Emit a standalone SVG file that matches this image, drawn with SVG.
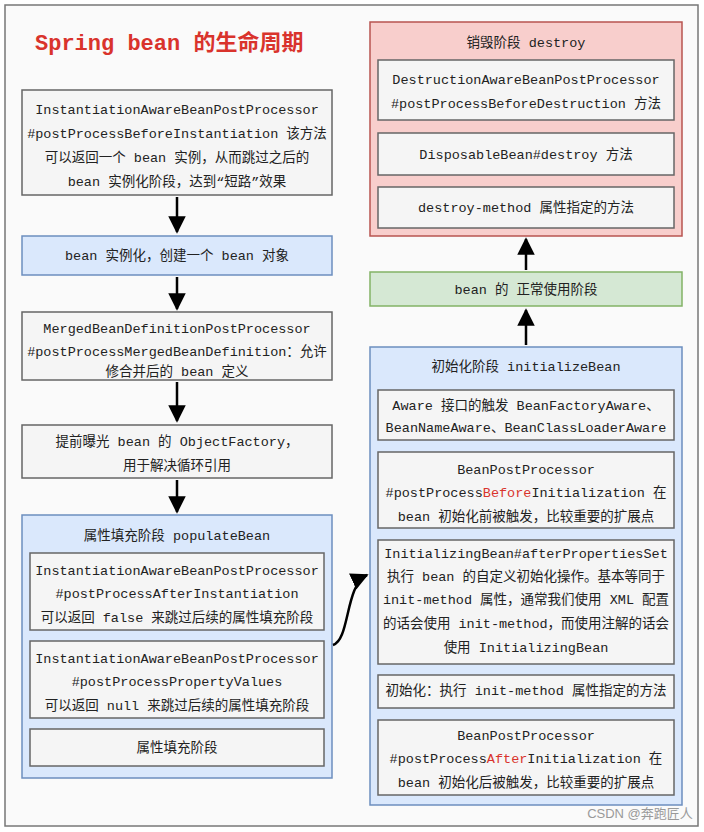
<svg xmlns="http://www.w3.org/2000/svg" width="704" height="832" viewBox="0 0 704 832">
<defs>
<marker id="ah" viewBox="0 0 10 10" refX="9" refY="5" markerWidth="7" markerHeight="7" orient="auto-start-reverse"><path d="M0,0 L10,5 L0,10 z" fill="#000"/></marker>
</defs>
<style>
text{font-family:"Liberation Mono","Noto Sans CJK SC",monospace;font-size:13.5px;fill:#222;text-anchor:middle}
.g{fill:#f5f5f5;stroke:#666;stroke-width:1.5}
.b{fill:#dae8fc;stroke:#6c8ebf;stroke-width:1.5}
.gr{fill:#d5e8d4;stroke:#82b366;stroke-width:1.5}
.r{fill:#f8cecc;stroke:#b85450;stroke-width:1.5}
.c{stroke:#000;stroke-width:2.5;fill:none;marker-end:url(#ah)}
.red{fill:#d9332c}
</style>
<rect x="5" y="5" width="693" height="821" fill="#fafafa" stroke="#777" stroke-width="1.5"/>
<text x="35" y="50" style="text-anchor:start;font-size:22px;font-weight:bold" class="red">Spring bean 的生命周期</text>

<g id="n1"><rect class="g" x="22" y="90" width="310" height="105"/>
<text x="177" y="114">InstantiationAwareBeanPostProcessor</text>
<text x="177" y="138">#postProcessBeforeInstantiation 该方法</text>
<text x="177" y="162">可以返回一个 bean 实例，从而跳过之后的</text>
<text x="177" y="186">bean 实例化阶段，达到“短路”效果</text></g>
<g id="n2"><rect class="b" x="22" y="236" width="310" height="39"/><text x="177" y="260">bean 实例化，创建一个 bean 对象</text></g>
<g id="n3"><rect class="g" x="22" y="312" width="310" height="68"/>
<text x="177" y="333">MergedBeanDefinitionPostProcessor</text>
<text x="177" y="356">#postProcessMergedBeanDefinition：允许</text>
<text x="177" y="380" dy="-4">修合并后的 bean 定义</text></g>
<g id="n4"><rect class="g" x="22" y="425" width="310" height="53"/>
<text x="177" y="446">提前曝光 bean 的 ObjectFactory，</text>
<text x="177" y="470">用于解决循环引用</text></g>
<g id="n5"><rect class="b" x="22" y="515" width="310" height="263"/>
<text x="177" y="540">属性填充阶段 populateBean</text>
<rect class="g" x="30" y="553" width="294" height="77"/>
<text x="177" y="575">InstantiationAwareBeanPostProcessor</text>
<text x="177" y="598">#postProcessAfterInstantiation</text>
<text x="177" y="622">可以返回 false 来跳过后续的属性填充阶段</text>
<rect class="g" x="30" y="641" width="294" height="77"/>
<text x="177" y="663">InstantiationAwareBeanPostProcessor</text>
<text x="177" y="686">#postProcessPropertyValues</text>
<text x="177" y="710">可以返回 null 来跳过后续的属性填充阶段</text>
<rect class="g" x="30" y="729" width="294" height="37"/>
<text x="177" y="752">属性填充阶段</text></g>

<g id="n6"><rect class="b" x="370" y="347" width="312" height="458"/>
<text x="526" y="371">初始化阶段 initializeBean</text>
<rect class="g" x="378" y="390" width="296" height="50"/>
<text x="526" y="410">Aware 接口的触发 BeanFactoryAware、</text>
<text x="526" y="432">BeanNameAware、BeanClassLoaderAware</text>
<rect class="g" x="378" y="452" width="296" height="76"/>
<text x="526" y="474">BeanPostProcessor</text>
<text x="526" y="497">#postProcess<tspan class="red">Before</tspan>Initialization 在</text>
<text x="526" y="521">bean 初始化前被触发，比较重要的扩展点</text>
<rect class="g" x="378" y="540" width="296" height="124"/>
<text x="526" y="558">InitializingBean#afterPropertiesSet</text>
<text x="526" y="581">执行 bean 的自定义初始化操作。基本等同于</text>
<text x="526" y="604">init-method 属性，通常我们使用 XML 配置</text>
<text x="526" y="628">的话会使用 init-method，而使用注解的话会</text>
<text x="526" y="652">使用 InitializingBean</text>
<rect class="g" x="378" y="675" width="296" height="33"/>
<text x="526" y="695">初始化：执行 init-method 属性指定的方法</text>
<rect class="g" x="378" y="720" width="296" height="75"/>
<text x="526" y="740">BeanPostProcessor</text>
<text x="526" y="763">#postProcess<tspan class="red">After</tspan>Initialization 在</text>
<text x="526" y="787">bean 初始化后被触发，比较重要的扩展点</text></g>

<g id="n7"><rect class="gr" x="370" y="272" width="312" height="34"/><text x="526" y="294">bean 的 正常使用阶段</text></g>
<g id="n8"><rect class="r" x="370" y="22" width="312" height="214"/>
<text x="526" y="47">销毁阶段 destroy</text>
<rect class="g" x="378" y="60" width="296" height="60"/>
<text x="526" y="84">DestructionAwareBeanPostProcessor</text>
<text x="526" y="108">#postProcessBeforeDestruction 方法</text>
<rect class="g" x="378" y="133" width="296" height="42"/>
<text x="526" y="159">DisposableBean#destroy 方法</text>
<rect class="g" x="378" y="187" width="296" height="41"/>
<text x="526" y="212">destroy-method 属性指定的方法</text></g>

<g id="connectors">
<path class="c" d="M177,197 V232"/>
<path class="c" d="M177,277 V309"/>
<path class="c" d="M177,382 V421"/>
<path class="c" d="M177,480 V512"/>
<path class="c" d="M333,645 C350,640 345,585 367,575"/>
<path class="c" d="M526,345 V310"/>
<path class="c" d="M526,270 V239"/>
</g>
<text x="640" y="818" style="font-family:'Liberation Sans','Noto Sans CJK SC',sans-serif;font-size:13px;fill:#999">CSDN @奔跑匠人</text>
</svg>
